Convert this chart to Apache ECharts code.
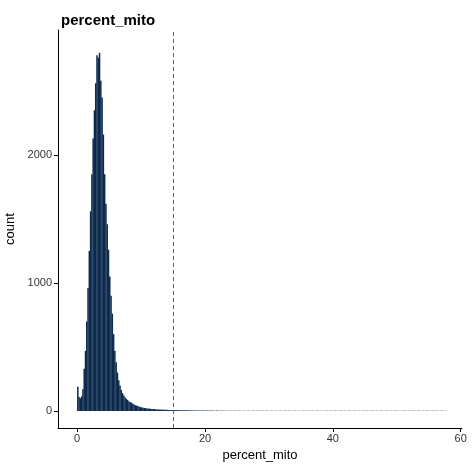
<!DOCTYPE html><html><head><meta charset="utf-8"><script src="https://cdn.jsdelivr.net/npm/echarts@6/dist/echarts.min.js"></script></head><body style="margin:0"><div id="c" style="width:474px;height:474px"></div><script>
const binWidth = 0.2;
const counts = [190,110,100,115,170,330,470,700,960,1250,1560,1850,2130,2350,2560,2780,2760,2800,2580,2450,2160,1850,1620,1460,1260,1050,900,760,600,470,380,300,240,200,165,140,120,105,95,85,75,70,64,56,50,45,42,38,34,31,28,26,24,22,20,19,18,17,16,15,14,13,12,12,11,11,10,10,9,9,9,8,8,8,7,7,7,7,6,6,6,6,5,6,5,5,5,4,5,4,4,4,4,3,4,3,3,3,4,3,3,3,2,3,3,2,3,2,2,3,2,2,2,3,2,2,2,1,2,2,2,1,2,2,1,2,1,2,1,1,2,1,1,2,1,1,1,2,1,1,1,1,1,2,1,1,1,1,1,1,1,2,1,1,1,1,1,1,1,1,1,1,1,1,1,1,1,1,1,1,1,1,1,1,1,1,1,1,1,1,1,1,1,1,1,1,1,1,1,1,1,1,1,1,1,1,1,1,1,1,1,1,1,1,1,1,1,1,1,1,1,1,1,1,1,1,1,1,1,1,1,1,1,1,1,1,1,1,1,1,1,1,1,1,1,1,1,1,1,1,1,1,1,1,1,1,1,1,1,1,1,1,1,1,1,1,1,1,1,1,1,1,1,1,1,1,1,1,1,1,1,1,1,1,1,1,1,1,1,1,1,1,1,1,1,1,1,1,1];
const xTicks = [0,20,40,60];
const yTicks = [0,1000,2000];
const cutoff = 15;
const data = counts.map((v,i)=>[binWidth*i+binWidth/2, v]);
const ch = echarts.init(document.getElementById('c'));
const font = 'Liberation Sans, Arial, sans-serif';
ch.setOption({
  animation:false,
  title:{text:'percent_mito',left:56,top:8,textStyle:{fontFamily:font,fontWeight:'bold',fontSize:15,color:'#000'}},
  grid:{left:58,right:12,top:30,bottom:46,containLabel:false,outerBoundsMode:'none'},
  xAxis:{type:'value',min:-3,max:60.2,name:'percent_mito',nameLocation:'middle',nameGap:20,
    nameTextStyle:{fontFamily:font,fontSize:13,color:'#000'},
    axisLine:{onZero:false,lineStyle:{color:'#000'}},splitLine:{show:false},
    axisTick:{customValues:xTicks,length:4,lineStyle:{color:'#000'}},
    axisLabel:{customValues:xTicks,fontFamily:font,fontSize:11,color:'#333',margin:5}},
  yAxis:{type:'value',min:-133,max:2977,name:'count',nameLocation:'middle',nameGap:40,
    nameTextStyle:{fontFamily:font,fontSize:13,color:'#000'},
    axisLine:{show:true,onZero:false,lineStyle:{color:'#000'}},splitLine:{show:false},
    axisTick:{show:true,customValues:yTicks,length:4,lineStyle:{color:'#000'}},
    axisLabel:{customValues:yTicks,formatter:v=>String(v),fontFamily:font,fontSize:11,color:'#333',margin:6}},
  series:[{type:'bar',data:data,barWidth:1.5,itemStyle:{color:'#0c2a4c'},
    markLine:{symbol:'none',silent:true,label:{show:false},lineStyle:{color:'#e0302a',type:[4,3],width:1},data:[{xAxis:cutoff}]}}]
});
</script></body></html>
